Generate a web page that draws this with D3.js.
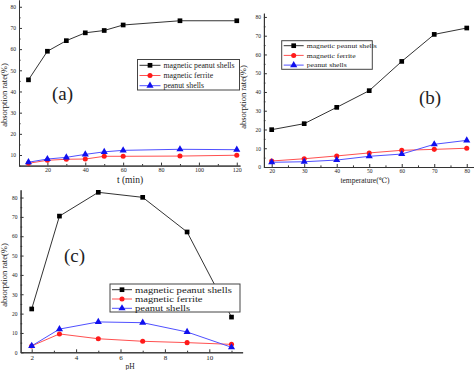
<!DOCTYPE html>
<html>
<head>
<meta charset="utf-8" />
<title>Absorption rate</title>
<style>
body { margin: 0; background: #fff; }
svg text { font-family: "Liberation Serif", "DejaVu Serif", serif; fill: #222; }
.axis path, .axis line { stroke: #333; stroke-width: 1; }
</style>
</head>
<body>
<div id="chart"></div>
<script src="https://d3js.org/d3.v7.min.js"></script>
<script>
(function(d3) {
	'use strict';

	var seriesNames = ['magnetic peanut shells', 'magnetic ferrite', 'peanut shells'];

	// (a) contact time
	var timeA = [10, 20, 30, 40, 50, 60, 90, 120];
	var aPeanutMag = [45.5, 59.0, 64.0, 67.7, 68.8, 71.4, 73.4, 73.4];
	var aFerrite = [6.1, 7.5, 8.0, 8.1, 9.4, 9.4, 9.5, 9.9];
	var aShells = [6.6, 8.1, 8.9, 10.3, 11.5, 12.2, 12.7, 12.5];
	var aXTicks = [20, 40, 60, 80, 100, 120];
	var aYTicks = [10, 20, 30, 40, 50, 60, 70, 80];

	// (b) temperature
	var tempB = [20, 30, 40, 50, 60, 70, 80];
	var bPeanutMag = [19.9, 23.1, 31.8, 40.7, 56.3, 70.7, 74.1];
	var bFerrite = [3.2, 4.4, 5.9, 7.5, 8.9, 9.4, 10.0];
	var bShells = [2.5, 2.8, 3.7, 5.7, 6.9, 12.1, 14.2];
	var bXTicks = [20, 30, 40, 50, 60, 70, 80];
	var bYTicks = [0, 10, 20, 30, 40, 50, 60, 70, 80];

	// (c) pH
	var phC = [2, 3.25, 5, 7, 9, 11];
	var cPeanutMag = [22.4, 70.4, 82.7, 80.1, 62.2, 18.2];
	var cFerrite = [3.3, 9.5, 7.0, 5.7, 5.0, 4.1];
	var cShells = [3.3, 12.0, 15.7, 15.3, 10.5, 2.6];
	var cXTicks = [2, 4, 6, 8, 10];
	var cYTicks = [0, 10, 20, 30, 40, 50, 60, 70, 80];

	var styles = [
		{ line: '#333', fill: '#000', shape: d3.symbolSquare, size: 22 },
		{ line: '#ff5050', fill: '#ff1a1a', shape: d3.symbolCircle, size: 20 },
		{ line: '#5050ff', fill: '#1010ee', shape: d3.symbolTriangle, size: 22 }
	];

	var width = 474;
	var height = 370;

	var svg = d3.select('#chart').append('svg')
		.attr('width', width).attr('height', height);

	function minorTicks(major, domain) {
		var step = (major[1] - major[0]) / 2;
		var out = [];
		for (var v = major[0] - step; v <= domain[1]; v += step * 2) {
			if (v >= domain[0]) out.push(v);
		}
		return out;
	}

	function drawPanel(p) {
		var g = svg.append('g');
		var x = d3.scaleLinear().domain(p.xDomain).range(p.xRange);
		var y = d3.scaleLinear().domain(p.yDomain).range(p.yRange);

		// minor ticks
		g.append('g').attr('class', 'axis')
			.attr('transform', 'translate(0,' + p.yRange[0] + ')')
			.call(d3.axisBottom(x).tickValues(minorTicks(p.xTicks, p.xDomain))
				.tickSize(-1.6).tickSizeOuter(0).tickFormat(''));
		g.append('g').attr('class', 'axis')
			.attr('transform', 'translate(' + p.xRange[0] + ',0)')
			.call(d3.axisLeft(y).tickValues(minorTicks(p.yTicks, p.yDomain))
				.tickSize(-1.6).tickSizeOuter(0).tickFormat(''));

		var xAxis = g.append('g').attr('class', 'axis')
			.attr('transform', 'translate(0,' + p.yRange[0] + ')')
			.call(d3.axisBottom(x).tickValues(p.xTicks).tickSize(-3)
				.tickSizeOuter(0).tickPadding(2.5));
		xAxis.selectAll('text').style('font-size', p.xFont + 'px');

		var yAxis = g.append('g').attr('class', 'axis')
			.attr('transform', 'translate(' + p.xRange[0] + ',0)')
			.call(d3.axisLeft(y).tickValues(p.yTicks).tickSize(-3)
				.tickSizeOuter(0).tickPadding(3));
		yAxis.selectAll('text').style('font-size', '5.5px');

		g.append('text')
			.attr('x', p.xTitle[0]).attr('y', p.xTitle[1])
			.attr('text-anchor', 'middle')
			.style('font-size', p.xTitleSize + 'px')
			.text(p.xLabel);

		g.append('text')
			.attr('transform', 'translate(' + p.yTitle[0] + ',' + p.yTitle[1] + ') rotate(-90)')
			.attr('text-anchor', 'middle')
			.style('font-size', '8.5px')
			.text('absorption rate(%)');

		var line = d3.line()
			.x(function(d) { return x(d[0]); })
			.y(function(d) { return y(d[1]); });

		p.series.forEach(function(vals, i) {
			var pts = p.xs.map(function(v, j) { return [v, vals[j]]; });
			g.append('path').datum(pts)
				.attr('d', line)
				.attr('fill', 'none')
				.attr('stroke', styles[i].line)
				.attr('stroke-width', 1);
			g.selectAll('.m' + i).data(pts).enter().append('path')
				.attr('class', 'm' + i)
				.attr('transform', function(d) {
					return 'translate(' + x(d[0]) + ',' + y(d[1]) + ')';
				})
				.attr('d', d3.symbol().type(styles[i].shape).size(styles[i].size))
				.attr('fill', styles[i].fill);
		});

		// legend
		var lg = p.legend;
		g.append('rect')
			.attr('x', lg.x).attr('y', lg.y)
			.attr('width', lg.w).attr('height', lg.h)
			.attr('fill', '#fff').attr('stroke', '#444').attr('stroke-width', 1);
		seriesNames.forEach(function(name, i) {
			var ry = lg.y + lg.row0 + i * lg.rowGap;
			var row = g.append('g').attr('transform', 'translate(' + (lg.x + 2) + ',' + ry + ')');
			row.append('line')
				.attr('x1', 0).attr('x2', lg.lineW)
				.attr('stroke', styles[i].line).attr('stroke-width', 1);
			row.append('path')
				.attr('transform', 'translate(' + (lg.lineW / 2) + ',0)')
				.attr('d', d3.symbol().type(styles[i].shape).size(styles[i].size))
				.attr('fill', styles[i].fill);
			var t = row.append('text')
				.attr('x', lg.lineW + 3).attr('dy', '0.33em')
				.style('font-size', lg.font + 'px')
				.text(name);
			// glyphs in the source are stretched sideways
			var natural = t.node().getComputedTextLength();
			t.attr('textLength', natural * lg.stretch)
				.attr('lengthAdjust', 'spacingAndGlyphs');
		});

		g.append('text')
			.attr('x', p.tag[0]).attr('y', p.tag[1])
			.style('font-size', '19px')
			.text(p.tagText);
	}

	drawPanel({
		xs: timeA, series: [aPeanutMag, aFerrite, aShells],
		xDomain: [5, 121.7], xRange: [19, 240],
		yDomain: [5, 83.2], yRange: [165.6, 0],
		xTicks: aXTicks, yTicks: aYTicks, xFont: 6,
		xLabel: 't (min)', xTitle: [130, 183], xTitleSize: 9.5,
		yTitle: [7, 95],
		legend: { x: 137.5, y: 59.5, w: 102, h: 30.5, row0: 5.8, rowGap: 10.2, lineW: 21, font: 7.5, stretch: 1.04 },
		tag: [52, 100], tagText: '(a)'
	});

	drawPanel({
		xs: tempB, series: [bPeanutMag, bFerrite, bShells],
		xDomain: [17.6, 82.2], xRange: [263.9, 473.9],
		yDomain: [0, 82], yRange: [167, 13.2],
		xTicks: bXTicks, yTicks: bYTicks, xFont: 5.5,
		xLabel: 'temperature(\u2103)', xTitle: [365, 183], xTitleSize: 7.5,
		yTitle: [246, 97],
		legend: { x: 281.7, y: 40.7, w: 90.6, h: 28.6, row0: 5, rowGap: 9.7, lineW: 20, font: 7, stretch: 1.1 },
		tag: [419, 104], tagText: '(b)'
	});

	drawPanel({
		xs: phC, series: [cPeanutMag, cFerrite, cShells],
		xDomain: [1.5, 11.5], xRange: [20.6, 242.6],
		yDomain: [0, 84], yRange: [352.3, 189.8],
		xTicks: cXTicks, yTicks: cYTicks, xFont: 7,
		xLabel: 'pH', xTitle: [130, 369], xTitleSize: 7.5,
		yTitle: [7, 275],
		legend: { x: 110, y: 284, w: 130, h: 28, row0: 5.7, rowGap: 9.3, lineW: 20, font: 8.5, stretch: 1.25 },
		tag: [64, 262], tagText: '(c)'
	});

})(window.d3);
</script>
</body>
</html>
